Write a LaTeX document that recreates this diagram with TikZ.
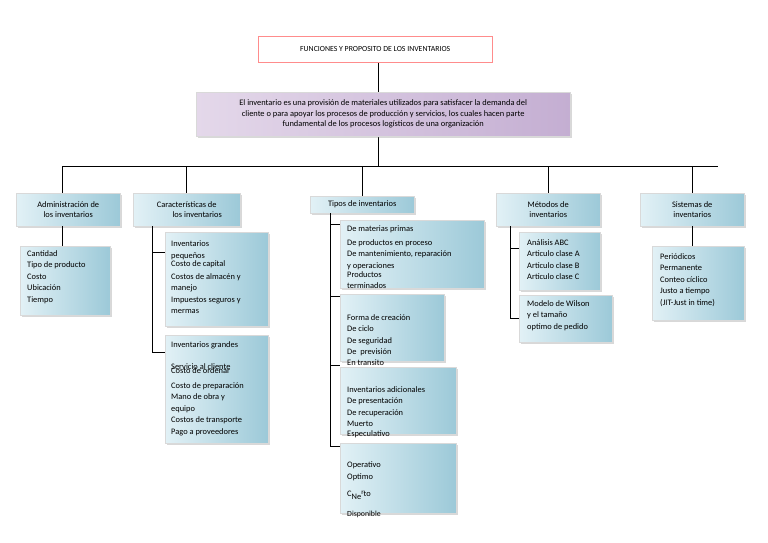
\documentclass[tikz,border=0pt]{standalone}
\usepackage{fontspec}
\setmainfont{Carlito}
\usetikzlibrary{shadows}
\definecolor{bxr}{HTML}{9CC9D8}
\definecolor{bxl}{HTML}{E2F1F6}
\definecolor{pul}{HTML}{E4D8EA}
\definecolor{pur}{HTML}{C4AED2}
\begin{document}
\begin{tikzpicture}[x=1pt,y=-1pt,
 bx/.style={draw=white!70!gray,left color=bxl,right color=bxr,drop shadow={shadow xshift=1.5pt,shadow yshift=-1.5pt,opacity=0.3}},
 tx/.style={anchor=north west,align=left,font=\fontsize{8.4}{11.5}\selectfont,inner sep=0pt},
 ct/.style={align=center,font=\fontsize{8.4}{10.5}\selectfont,inner sep=0pt},
 ln/.style={line width=0.9pt}]
\useasboundingbox (0,0) rectangle (768,543);
\fill[white] (0,0) rectangle (768,543);
% top
\draw[ln] (378,62) -- (378,92);
\draw[ln] (378,136) -- (378,166);
\draw[ln] (62,166) -- (718,166);
\foreach \x/\y in {62/193,186/193,362/196,548/193,692/193} \draw[ln] (\x,166) -- (\x,\y);
\node[draw=red!45,fill=white,minimum width=234,minimum height=26,anchor=north west,inner sep=0pt] (title) at (258,36) {};
\node[ct,font=\fontsize{7.8}{9}\selectfont] at (title.center) {FUNCIONES Y PROPOSITO DE LOS INVENTARIOS};
\node[draw=white!70!gray,left color=pul,right color=pur,minimum width=374,minimum height=44,anchor=north west,inner sep=0pt,drop shadow={shadow xshift=1.5pt,shadow yshift=-1.5pt,opacity=0.3}] (def) at (196,92) {};
\node[ct] at (def.center) {El inventario es una provisión de materiales utilizados para satisfacer la demanda del\\cliente o para apoyar los procesos de producción y servicios, los cuales hacen parte\\fundamental de los procesos logísticos de una organización};
% level 1
\node[bx,minimum width=104,minimum height=33,anchor=north west] (adm) at (16,193) {};
\node[ct] at (adm.center) {Administración de\\los inventarios};
\node[bx,minimum width=107,minimum height=33,anchor=north west] (car) at (133,193) {};
\node[ct] at (car.center) {Características de\\\hspace*{2.5em}los inventarios};
\node[bx,minimum width=104,minimum height=17,anchor=north west] (tip) at (310,196) {};
\node[ct] at (tip.center) {Tipos de inventarios};
\node[bx,minimum width=104,minimum height=33,anchor=north west] (met) at (496,193) {};
\node[ct] at (met.center) {Métodos de\\inventarios};
\node[bx,minimum width=104,minimum height=33,anchor=north west] (sis) at (640,193) {};
\node[ct] at (sis.center) {Sistemas de\\inventarios};
% connectors to children
\draw[ln] (62,226) -- (62,246);
\draw[ln] (152,226) -- (152,352) -- (165,352); \draw[ln] (152,252) -- (165,252);
\draw[ln] (330,213) -- (330,446) -- (340,446);
\foreach \y in {224,296,365} \draw[ln] (330,\y) -- (340,\y);
\draw[ln] (510,226) -- (510,318) -- (519,318); \draw[ln] (510,248) -- (519,248);
\draw[ln] (692,226) -- (692,246);
% children boxes
\node[bx,minimum width=90,minimum height=69,anchor=north west] (a1) at (20,246) {};
\node[tx] at (27,250) {Cantidad\\Tipo de producto\\Costo\\Ubicación\\Tiempo};
\node[bx,minimum width=103,minimum height=94,anchor=north west] (c1) at (165,232) {};
\node[tx] at (171,241) {Inventarios\\pequeños\\[-3pt]Costo de capital\\[1pt]Costos de almacén y\\manejo\\Impuestos seguros y\\mermas};
\node[bx,minimum width=103,minimum height=108,anchor=north west] (c2) at (165,335) {};
\node[tx] at (171,341) {Inventarios grandes};
\node[tx] at (171,363) {Servicio al cliente};
\node[tx] at (171,367) {Costo de ordenar};
\node[tx] at (171,382) {Costo de preparación\\Mano de obra y\\equipo\\Costos de transporte\\Pago a proveedores};
\node[bx,minimum width=144,minimum height=68,anchor=north west] (t1) at (340,220) {};
\node[tx] at (347,226) {De materias primas\\[2pt]De productos en proceso\\De mantenimiento, reparación\\y operaciones\\[-2pt]Productos\\[-1pt]terminados};
\node[bx,minimum width=104,minimum height=67,anchor=north west] (t2) at (340,294) {};
\node[tx] at (347,314) {Forma de creación\\De ciclo\\De seguridad\\De\ \ previsión\\[-1pt]En transito};
\node[bx,minimum width=116,minimum height=67,anchor=north west] (t3) at (340,367) {};
\node[tx] at (347,386) {Inventarios adicionales\\De presentación\\De recuperación\\Muerto\\[-2pt]Especulativo};
\node[bx,minimum width=116,minimum height=70,anchor=north west] (t4) at (340,443) {};
\node[tx] at (347,461) {Operativo\\[1pt]Optimo};
\node[tx] at (347,491) {C\raisebox{-3pt}{Ne}\raisebox{2pt}{\scriptsize r}to};
\node[tx,font=\fontsize{7.8}{9}\selectfont] at (347,511) {Disponible};
\node[bx,minimum width=81,minimum height=58,anchor=north west] (m1) at (519,232) {};
\node[tx] at (527,239) {Análisis ABC\\Articulo clase A\\Articulo clase B\\Articulo clase C};
\node[bx,minimum width=93,minimum height=47,anchor=north west] (m2) at (519,295) {};
\node[tx] at (527,300) {Modelo de Wilson\\y el tamaño\\optimo de pedido};
\node[bx,minimum width=92,minimum height=74,anchor=north west] (s1) at (652,246) {};
\node[tx] at (660,253) {Periódicos\\Permanente\\Conteo cíclico\\Justo a tiempo\\(JIT-Just in time)};
\end{tikzpicture}
\end{document}
